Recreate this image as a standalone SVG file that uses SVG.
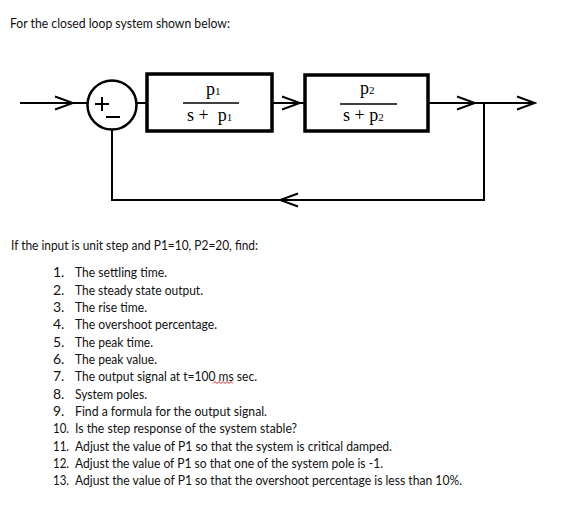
<svg xmlns="http://www.w3.org/2000/svg" width="572" height="507" viewBox="0 0 572 507">
<defs>
<style>
.t{font-family:Lato,"Open Sans",sans-serif;font-size:14px;fill:#111}
.m{font-family:"Liberation Serif","Times New Roman",serif;font-size:18px;fill:#000}
.d{font-size:11px}
.ln{fill:none;stroke:#000;stroke-width:2}
.bx{fill:#fff;stroke:#000;stroke-width:3.5}
</style>
<marker id="chev" viewBox="-20 -9 22 18" refX="0" refY="0" markerWidth="22" markerHeight="18" markerUnits="userSpaceOnUse" orient="auto">
<path d="M-18,-6.5 L0,0 L-18,6.5" fill="none" stroke="#000" stroke-width="2"/>
</marker>
</defs>
<rect width="572" height="507" fill="#fff"/>
<text class="t" x="10" y="28" textLength="220" lengthAdjust="spacingAndGlyphs">For the closed loop system shown below:</text>

<g id="connectors">
<path class="ln" d="M20,103 H73" marker-end="url(#chev)"/>
<path class="ln" d="M73,103 H88"/>
<path class="ln" d="M137,103 H147"/>
<path class="ln" d="M272,103 H300" marker-end="url(#chev)"/>
<path class="ln" d="M300,103 H305"/>
<path class="ln" d="M428,103 H475" marker-end="url(#chev)"/>
<path class="ln" d="M475,103 H535" marker-end="url(#chev)"/>
<path class="ln" d="M484,103 V200 H280" marker-end="url(#chev)"/>
<path class="ln" d="M280,200 H112 V130"/>
</g>

<g id="sum">
<circle cx="112" cy="105" r="24.5" fill="#fff" stroke="#000" stroke-width="2.5"/>
<path d="M95,104 H109 M102,97 V111 M106,117 H120" fill="none" stroke="#000" stroke-width="2"/>
</g>

<g id="block1">
<rect class="bx" x="147" y="74" width="125" height="57"/>
<text class="m" x="206" y="95">p<tspan class="d">1</tspan></text>
<line x1="183" y1="103" x2="239" y2="103" stroke="#000" stroke-width="1.5"/>
<text class="m" x="187" y="121" xml:space="preserve">s +  p<tspan class="d">1</tspan></text>
</g>

<g id="block2">
<rect class="bx" x="305" y="75" width="123" height="56"/>
<text class="m" x="360" y="94">p<tspan class="d">2</tspan></text>
<line x1="340" y1="104" x2="397" y2="104" stroke="#000" stroke-width="1.5"/>
<text class="m" x="343" y="121">s + p<tspan class="d">2</tspan></text>
</g>

<text class="t" x="11" y="250" textLength="247" lengthAdjust="spacingAndGlyphs">If the input is unit step and P1=10, P2=20, find:</text>
<g class="t">
<text x="53" y="277">1.</text><text x="75" y="277" textLength="92" lengthAdjust="spacingAndGlyphs">The settling time.</text>
<text x="53" y="294.5">2.</text><text x="75" y="294.5" textLength="128" lengthAdjust="spacingAndGlyphs">The steady state output.</text>
<text x="53" y="312">3.</text><text x="75" y="312" textLength="72" lengthAdjust="spacingAndGlyphs">The rise time.</text>
<text x="53" y="329">4.</text><text x="75" y="329" textLength="142" lengthAdjust="spacingAndGlyphs">The overshoot percentage.</text>
<text x="53" y="346.5">5.</text><text x="75" y="346.5" textLength="78" lengthAdjust="spacingAndGlyphs">The peak time.</text>
<text x="53" y="364">6.</text><text x="75" y="364" textLength="82" lengthAdjust="spacingAndGlyphs">The peak value.</text>
<text x="53" y="381">7.</text><text x="75" y="381" textLength="182" lengthAdjust="spacingAndGlyphs">The output signal at t=100 ms sec.</text>
<text x="53" y="398.5">8.</text><text x="75" y="398.5" textLength="72" lengthAdjust="spacingAndGlyphs">System poles.</text>
<text x="53" y="416">9.</text><text x="75" y="416" textLength="192" lengthAdjust="spacingAndGlyphs">Find a formula for the output signal.</text>
<text x="53" y="433" textLength="16" lengthAdjust="spacingAndGlyphs">10.</text><text x="75" y="433" textLength="222" lengthAdjust="spacingAndGlyphs">Is the step response of the system stable?</text>
<text x="53" y="450.5" textLength="16" lengthAdjust="spacingAndGlyphs">11.</text><text x="75" y="450.5" textLength="317" lengthAdjust="spacingAndGlyphs">Adjust the value of P1 so that the system is critical damped.</text>
<text x="53" y="468" textLength="16" lengthAdjust="spacingAndGlyphs">12.</text><text x="75" y="468" textLength="308" lengthAdjust="spacingAndGlyphs">Adjust the value of P1 so that one of the system pole is -1.</text>
<text x="53" y="485" textLength="16" lengthAdjust="spacingAndGlyphs">13.</text><text x="75" y="485" textLength="387" lengthAdjust="spacingAndGlyphs">Adjust the value of P1 so that the overshoot percentage is less than 10%.</text>
</g>
<path d="M213,383.5 l2,-2 l2,2 l2,-2 l2,2 l2,-2 l2,2 l2,-2 l2,2 l2,-2 l2,2" fill="none" stroke="#d22" stroke-width="1"/>
</svg>
